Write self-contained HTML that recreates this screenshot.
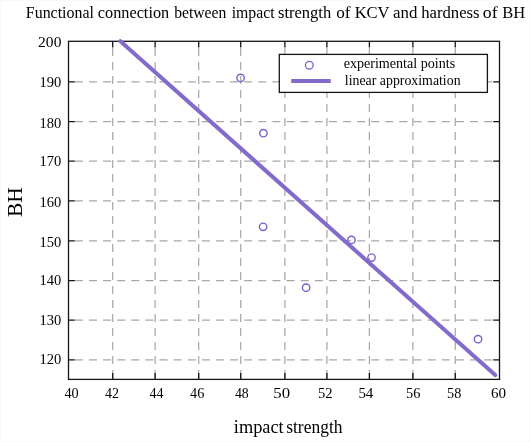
<!DOCTYPE html><html><head><meta charset="utf-8"><style>html,body{margin:0;padding:0;background:#fff;}svg{display:block;}text{font-family:"Liberation Serif","Times New Roman",serif;fill:#000;}</style></head><body>
<svg width="530" height="442" viewBox="0 0 530 442">
<rect x="0.5" y="0.5" width="529" height="441" fill="#fff" stroke="#f9f9f9" stroke-width="1"/>
<g stroke="#a8a8a8" stroke-width="1.25" fill="none"><line x1="112.7" y1="48.0" x2="112.7" y2="379.4" stroke-dasharray="8 6.0"/><line x1="155.1" y1="48.0" x2="155.1" y2="379.4" stroke-dasharray="8 6.0"/><line x1="198.7" y1="48.0" x2="198.7" y2="379.4" stroke-dasharray="8 6.0"/><line x1="240.7" y1="48.0" x2="240.7" y2="379.4" stroke-dasharray="8 6.0"/><line x1="284.9" y1="48.0" x2="284.9" y2="379.4" stroke-dasharray="8 6.0"/><line x1="326.9" y1="48.0" x2="326.9" y2="379.4" stroke-dasharray="8 6.0"/><line x1="369.4" y1="48.0" x2="369.4" y2="379.4" stroke-dasharray="8 6.0"/><line x1="412.9" y1="48.0" x2="412.9" y2="379.4" stroke-dasharray="8 6.0"/><line x1="455.25" y1="48.0" x2="455.25" y2="379.4" stroke-dasharray="8 6.0"/><line x1="74.9" y1="81.9" x2="499.5" y2="81.9" stroke-dasharray="8 6.11"/><line x1="74.9" y1="121.6" x2="499.5" y2="121.6" stroke-dasharray="8 6.11"/><line x1="74.9" y1="161.1" x2="499.5" y2="161.1" stroke-dasharray="8 6.11"/><line x1="74.9" y1="200.9" x2="499.5" y2="200.9" stroke-dasharray="8 6.11"/><line x1="74.9" y1="240.9" x2="499.5" y2="240.9" stroke-dasharray="8 6.11"/><line x1="74.9" y1="280.6" x2="499.5" y2="280.6" stroke-dasharray="8 6.11"/><line x1="74.9" y1="320.2" x2="499.5" y2="320.2" stroke-dasharray="8 6.11"/><line x1="74.9" y1="359.9" x2="499.5" y2="359.9" stroke-dasharray="8 6.11"/></g>
<path d="M112.7 41.3v6.3M112.7 379.4v-6.3M155.1 41.3v6.3M155.1 379.4v-6.3M198.7 41.3v6.3M198.7 379.4v-6.3M240.7 41.3v6.3M240.7 379.4v-6.3M284.9 41.3v6.3M284.9 379.4v-6.3M326.9 41.3v6.3M326.9 379.4v-6.3M369.4 41.3v6.3M369.4 379.4v-6.3M412.9 41.3v6.3M412.9 379.4v-6.3M455.25 41.3v6.3M455.25 379.4v-6.3M68.5 81.9h6.3M499.5 81.9h-6.3M68.5 121.6h6.3M499.5 121.6h-6.3M68.5 161.1h6.3M499.5 161.1h-6.3M68.5 200.9h6.3M499.5 200.9h-6.3M68.5 240.9h6.3M499.5 240.9h-6.3M68.5 280.6h6.3M499.5 280.6h-6.3M68.5 320.2h6.3M499.5 320.2h-6.3M68.5 359.9h6.3M499.5 359.9h-6.3" stroke="#151515" stroke-width="1.3" fill="none"/>
<g fill="none" stroke="#7961cb" stroke-width="1.4"><circle cx="240.6" cy="77.9" r="3.7"/><circle cx="263.4" cy="133.2" r="3.7"/><circle cx="263.1" cy="226.8" r="3.7"/><circle cx="351.5" cy="239.9" r="3.7"/><circle cx="371.5" cy="257.6" r="3.7"/><circle cx="306.1" cy="287.7" r="3.7"/><circle cx="478.05" cy="339.2" r="3.7"/></g>
<rect x="68.5" y="41.3" width="431.0" height="338.09999999999997" fill="none" stroke="#151515" stroke-width="1.3"/>
<line x1="120.4" y1="41.2" x2="495.2" y2="375.1" stroke="#836bcc" stroke-width="4" stroke-linecap="round"/>
<rect x="279.3" y="54.4" width="208.1" height="38" fill="#fff" stroke="#151515" stroke-width="1.3"/>
<circle cx="309.3" cy="65.3" r="3.85" fill="none" stroke="#7961cb" stroke-width="1.3"/>
<line x1="291.2" y1="81.1" x2="330.8" y2="81.1" stroke="#836bcc" stroke-width="4"/>
<text x="343.70" y="68.1" font-size="14" textLength="111.47" lengthAdjust="spacingAndGlyphs">experimental points</text>
<text x="344.85" y="85.3" font-size="14" textLength="115.73" lengthAdjust="spacingAndGlyphs">linear approximation</text>
<text x="38.12" y="46.8" font-size="15" textLength="23.29" lengthAdjust="spacingAndGlyphs">200</text>
<text x="39.59" y="87.1" font-size="15" textLength="21.80" lengthAdjust="spacingAndGlyphs">190</text>
<text x="39.59" y="127.5" font-size="15" textLength="21.80" lengthAdjust="spacingAndGlyphs">180</text>
<text x="39.59" y="166.1" font-size="15" textLength="21.80" lengthAdjust="spacingAndGlyphs">170</text>
<text x="39.59" y="206.5" font-size="15" textLength="21.80" lengthAdjust="spacingAndGlyphs">160</text>
<text x="39.59" y="246.7" font-size="15" textLength="21.80" lengthAdjust="spacingAndGlyphs">150</text>
<text x="39.59" y="285.1" font-size="15" textLength="21.80" lengthAdjust="spacingAndGlyphs">140</text>
<text x="39.59" y="325.3" font-size="15" textLength="21.80" lengthAdjust="spacingAndGlyphs">130</text>
<text x="39.59" y="363.6" font-size="15" textLength="21.80" lengthAdjust="spacingAndGlyphs">120</text>
<text x="64.46" y="397.8" font-size="15" textLength="14.21" lengthAdjust="spacingAndGlyphs">40</text>
<text x="104.97" y="397.8" font-size="15" textLength="14.04" lengthAdjust="spacingAndGlyphs">42</text>
<text x="149.57" y="397.8" font-size="15" textLength="13.97" lengthAdjust="spacingAndGlyphs">44</text>
<text x="190.06" y="397.8" font-size="15" textLength="14.21" lengthAdjust="spacingAndGlyphs">46</text>
<text x="234.97" y="397.8" font-size="15" textLength="13.79" lengthAdjust="spacingAndGlyphs">48</text>
<text x="273.28" y="397.8" font-size="15" textLength="16.78" lengthAdjust="spacingAndGlyphs">50</text>
<text x="318.03" y="397.8" font-size="15" textLength="14.60" lengthAdjust="spacingAndGlyphs">52</text>
<text x="358.40" y="397.8" font-size="15" textLength="14.95" lengthAdjust="spacingAndGlyphs">54</text>
<text x="406.04" y="397.8" font-size="15" textLength="14.33" lengthAdjust="spacingAndGlyphs">56</text>
<text x="447.05" y="397.8" font-size="15" textLength="14.22" lengthAdjust="spacingAndGlyphs">58</text>
<text x="491.05" y="397.8" font-size="15" textLength="15.05" lengthAdjust="spacingAndGlyphs">60</text>
<text x="25.85" y="17.5" font-size="17.6" textLength="68.09" lengthAdjust="spacingAndGlyphs">Functional</text>
<text x="97.81" y="17.5" font-size="17.6" textLength="71.37" lengthAdjust="spacingAndGlyphs">connection</text>
<text x="174.20" y="17.5" font-size="17.6" textLength="52.13" lengthAdjust="spacingAndGlyphs">between</text>
<text x="231.68" y="17.5" font-size="17.6" textLength="42.95" lengthAdjust="spacingAndGlyphs">impact</text>
<text x="278.00" y="17.5" font-size="17.6" textLength="53.18" lengthAdjust="spacingAndGlyphs">strength</text>
<text x="336.17" y="17.5" font-size="17.6" textLength="14.24" lengthAdjust="spacingAndGlyphs">of</text>
<text x="354.63" y="17.5" font-size="17.6" textLength="34.92" lengthAdjust="spacingAndGlyphs">KCV</text>
<text x="392.98" y="17.5" font-size="17.6" textLength="24.37" lengthAdjust="spacingAndGlyphs">and</text>
<text x="421.16" y="17.5" font-size="17.6" textLength="58.47" lengthAdjust="spacingAndGlyphs">hardness</text>
<text x="482.84" y="17.5" font-size="17.6" textLength="14.76" lengthAdjust="spacingAndGlyphs">of</text>
<text x="502.33" y="17.5" font-size="17.6" textLength="23.00" lengthAdjust="spacingAndGlyphs">BH</text>
<text x="233.83" y="432.6" font-size="19.5" textLength="49.84" lengthAdjust="spacingAndGlyphs">impact</text>
<text x="286.23" y="432.6" font-size="19.5" textLength="56.27" lengthAdjust="spacingAndGlyphs">strength</text>
<text transform="translate(21.5 217) rotate(-90)" x="0" y="0" font-size="21.5">BH</text>
</svg></body></html>
